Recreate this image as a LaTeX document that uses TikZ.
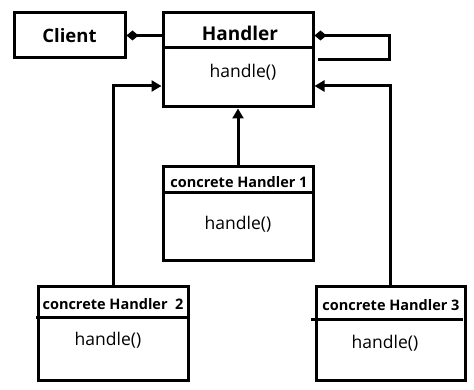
\documentclass[tikz,border=0pt]{standalone}
\usepackage{fontspec}
\setmainfont{Open Sans}
\usetikzlibrary{arrows.meta, calc}

\tikzset{
  classbox/.style={draw=black, line width=3pt, minimum width=150pt, minimum height=94pt, inner sep=0pt},
  titletext/.style={font=\fontsize{14.5}{16}\selectfont\bfseries},
  methodtext/.style={font=\fontsize{17.5}{19}\selectfont},
  link/.style={line width=3pt, black},
  inherit/.style={link, -{Triangle[length=10pt, width=11pt]}},
  owns/.style={link, {Diamond[length=12pt, width=10pt]}-}
}

\begin{document}
\begin{tikzpicture}[x=1pt, y=-1pt]
  \useasboundingbox (0,0) rectangle (474,390);

  % Client
  \node[classbox, minimum width=111pt, minimum height=45pt, font=\fontsize{18.5}{20}\selectfont\bfseries] (client) at (69.5,35.5) {Client};

  % Handler
  \node[classbox] (handler) at (238,60) {};
  \draw[link] (163,48) -- (315,48);
  \node[font=\fontsize{19}{20}\selectfont\bfseries] (handlertitle) at (240,33) {Handler};
  \node[methodtext] (handlermethod) at (243,72) {handle()};

  % concrete Handler 1
  \node[classbox] (concreteA) at (238,214) {};
  \draw[link] (163,193) -- (315,193);
  \node[titletext] (concreteAtitle) at (239,182) {concrete Handler 1};
  \node[methodtext] (concreteAmethod) at (238,224) {handle()};

  % concrete Handler 2
  \node[classbox] (concreteB) at (113,333) {};
  \draw[link] (36,317) -- (188,317);
  \node[titletext] (concreteBtitle) at (113,304) {concrete Handler\ \ 2};
  \node[methodtext] (concreteBmethod) at (108,340) {handle()};

  % concrete Handler 3
  \node[classbox, minimum width=149pt] (concreteC) at (390.5,333) {};
  \draw[link] (311,319) -- (463,319);
  \node[titletext] (concreteCtitle) at (391,305) {concrete Handler 3};
  \node[methodtext] (concreteCmethod) at (385,343) {handle()};

  % Client haelt Handler
  \draw[owns] (client.east) -- (client.east -| handler.west);

  % Nachfolger (Selbstbezug)
  \coordinate (loopcorner) at ($(handler.east)+(75,0)$);
  \draw[owns] ([yshift=-24pt]handler.north east) -| (loopcorner) -- ([xshift=3pt]handler.east);

  % Vererbung
  \draw[inherit] (concreteA.north) -- (handler.south);
  \draw[inherit] (concreteB.north) |- ([yshift=-26pt]handler.west);
  \draw[inherit] (concreteC.north) |- ([yshift=-26pt]handler.east);
\end{tikzpicture}
\end{document}
